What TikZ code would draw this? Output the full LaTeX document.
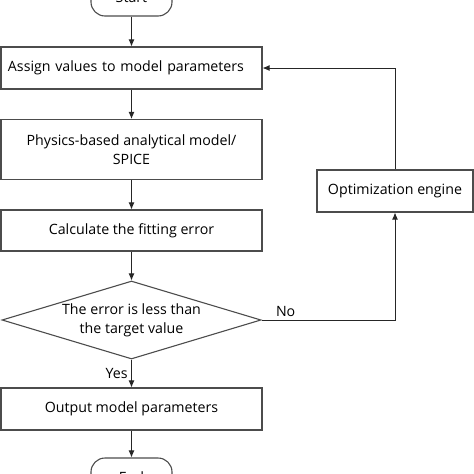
\documentclass[tikz,border=0pt]{standalone}
\usepackage{fontspec}
\setmainfont{Open Sans}
\usetikzlibrary{shapes.geometric,arrows.meta}

\tikzstyle{box}=[rectangle,draw=black!70,line width=1.1pt,minimum width=261,minimum height=42,inner sep=0pt,align=center,fill=white]
\tikzstyle{term}=[box,rounded corners=14pt,minimum width=81,minimum height=38]
\tikzstyle{decide}=[diamond,draw=black!70,line width=1.1pt,minimum width=259,minimum height=78,inner sep=0pt,align=center,aspect=3.3]
\tikzstyle{flow}=[-{Latex[length=7pt,width=6pt]},line width=0.9pt,draw=black!85]

\begin{document}
\begin{tikzpicture}[x=1pt,y=-1pt,font=\fontsize{14.2}{19}\selectfont]
  \clip (0,0) rectangle (474,474);
  \node[term] (start) at (131.5,-3) {Start};
  \node[box,text width=247,inner xsep=7pt,align=left] (assign) at (131.5,68) {Assign values to model parameters};
  \node[box,minimum height=60] (model) at (131.5,149.5) {Physics-based analytical model/\\SPICE};
  \node[box,minimum height=41] (calc) at (131.5,230.5) {Calculate the fitting error};
  \node[decide] (check) at (131.5,320) {The error is less than\\the target value};
  \node[box] (output) at (131.5,409) {Output model parameters};
  \node[term] (stop) at (131.5,477) {End};
  \node[box,minimum width=156] (optim) at (395,191) {Optimization engine};

  \draw[flow] (start) -- (assign);
  \draw[flow] (assign) -- (model);
  \draw[flow] (model) -- (calc);
  \draw[flow] (calc) -- (check);
  \draw[flow] (check) -- node[left] (yes) {Yes} (output);
  \draw[flow] (output) -- (stop);
  \draw[flow] (check.east) -- node[pos=0.08,above right] (no) {No} (check.east -| optim.south) -- (optim.south);
  \draw[flow] (optim.north) -- (optim.north |- assign.east) -- (assign.east);
\end{tikzpicture}
\end{document}
